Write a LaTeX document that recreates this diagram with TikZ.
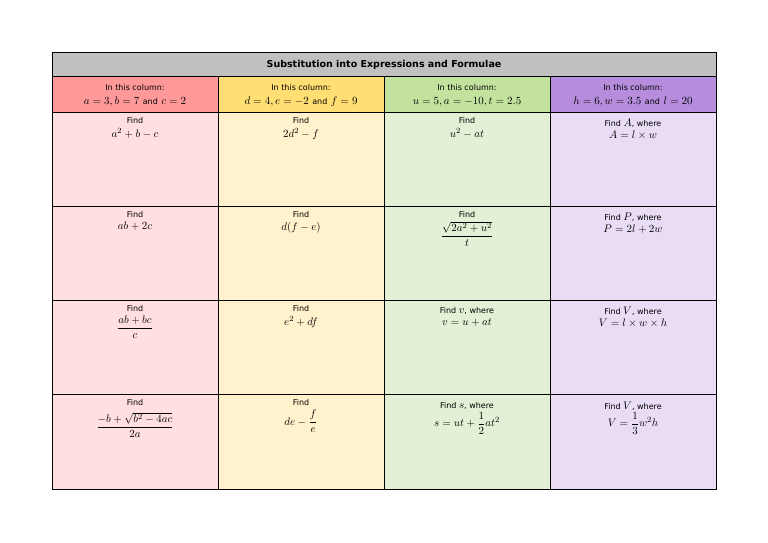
\documentclass[tikz,border=0pt]{standalone}
\usepackage{amsmath}
\usepackage{fontspec}
\setmainfont{DejaVu Sans}
\definecolor{hr}{HTML}{FF9999}\definecolor{hy}{HTML}{FFDF74}
\definecolor{hg}{HTML}{C3E29E}\definecolor{hp}{HTML}{B68DDC}
\definecolor{lr}{HTML}{FFDFDF}\definecolor{ly}{HTML}{FFF2CC}
\definecolor{lg}{HTML}{E2F0D6}\definecolor{lp}{HTML}{E9DDF5}
\definecolor{tg}{HTML}{C0C0C0}
\newcommand\mfs{\fontsize{11}{13}\selectfont}
\begin{document}
\begin{tikzpicture}[x=1pt,y=-1pt,
 cellbox/.style={draw=black,line width=0.6pt},
 fnd/.style={inner sep=1pt,font=\fontsize{8}{10}\selectfont},
 frm/.style={anchor=north,inner sep=1pt,font=\mfs},
 hdr/.style={inner sep=1pt,font=\fontsize{8}{10}\selectfont}]
\useasboundingbox (0,0) rectangle (768,543);
\fill[white] (0,0) rectangle (768,543);
\def\xs{{52,218,384,550,716}}
\def\ys{{112,206,300,394,489}}
\draw[cellbox,fill=tg] (52,52) rectangle (716,76);
\node[font=\bfseries\fontsize{9.5}{11}\selectfont] (title) at (384,64.5) {Substitution into Expressions and Formulae};
\foreach \c/\col in {0/hr,1/hy,2/hg,3/hp}{
 \pgfmathsetmacro\xa{\xs[\c]}\pgfmathsetmacro\xb{\xs[\c+1]}
 \draw[cellbox,fill=\col] (\xa,76) rectangle (\xb,112);
}
\foreach \c/\col in {0/lr,1/ly,2/lg,3/lp}{
 \foreach \r in {0,1,2,3}{
  \pgfmathsetmacro\xa{\xs[\c]}\pgfmathsetmacro\xb{\xs[\c+1]}
  \pgfmathsetmacro\ya{\ys[\r]}\pgfmathsetmacro\yb{\ys[\r+1]}
  \draw[cellbox,fill=\col] (\xa,\ya) rectangle (\xb,\yb);
 }}
\foreach \n/\x in {1/135,2/301,3/467,4/633}{\node[hdr] (ht\n) at (\x,88) {In this column:};}
\node[hdr] (h1) at (135,102) {\mfs$a=3, b=7$ {\fontsize{8}{10}\selectfont and} $c=2$};
\node[hdr] (h2) at (301,102) {\mfs$d=4, e=-2$ {\fontsize{8}{10}\selectfont and} $f=9$};
\node[hdr] (h3) at (467,102) {\mfs$u=5, a=-10, t=2.5$};
\node[hdr] (h4) at (633,102) {\mfs$h=6, w=3.5$ {\fontsize{8}{10}\selectfont and} $l=20$};
\foreach \r/\y in {1/121,2/215,3/309,4/403}{
 \foreach \c/\x in {1/135,2/301}{\node[fnd] (f\r\c) at (\x,\y) {Find};}}
\node[fnd] (f13) at (467,121) {Find};
\node[fnd] (f23) at (467,215) {Find};
\node[fnd] (f14) at (633,123) {Find {\mfs$A$}, where};
\node[fnd] (f24) at (633,217) {Find {\mfs$P$}, where};
\node[fnd] (f33) at (467,311) {Find {\mfs$v$}, where};
\node[fnd] (f34) at (633,311) {Find {\mfs$V$}, where};
\node[fnd] (f43) at (467,406) {Find {\mfs$s$}, where};
\node[fnd] (f44) at (633,406) {Find {\mfs$V$}, where};
\node[frm] (c11) at (135,127) {$a^2+b-c$};
\node[frm] (c12) at (301,127) {$2d^2-f$};
\node[frm] (c13) at (467,127) {$u^2-at$};
\node[frm] (c14) at (633,130) {$A=l\times w$};
\node[frm] (c21) at (135,221) {$ab+2c$};
\node[frm] (c22) at (301,221) {$d(f-e)$};
\node[frm] (c23) at (467,220) {$\dfrac{\sqrt{2a^2+u^2}}{t}$};
\node[frm] (c24) at (633,224) {$P=2l+2w$};
\node[frm] (c31) at (135,315) {$\dfrac{ab+bc}{c}$};
\node[frm] (c32) at (301,315) {$e^2+df$};
\node[frm] (c33) at (467,318) {$v=u+at$};
\node[frm] (c34) at (633,318) {$V=l\times w\times h$};
\node[frm] (c41) at (135,411) {$\dfrac{-b+\sqrt{b^2-4ac}}{2a}$};
\node[frm] (c42) at (301,409) {$de-\dfrac{f}{e}$};
\node[frm] (c43) at (467,411) {$s=ut+\dfrac{1}{2}at^2$};
\node[frm] (c44) at (633,411) {$V=\dfrac{1}{3}w^2h$};
\end{tikzpicture}
\end{document}
